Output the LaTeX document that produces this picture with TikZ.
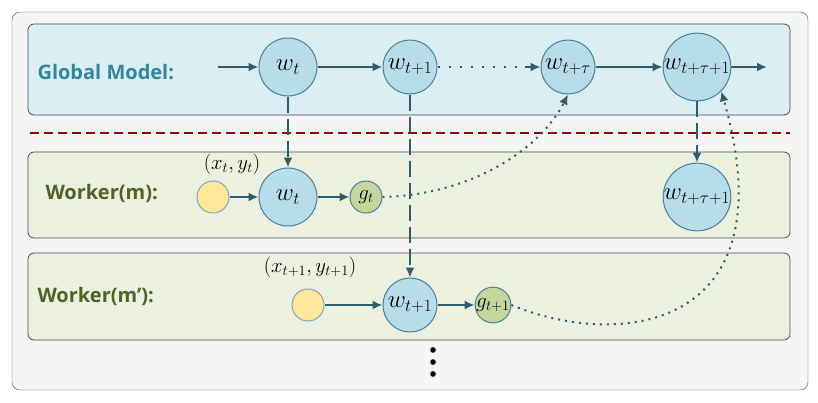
\documentclass[tikz,border=0pt]{standalone}
\usepackage{fontspec}
\setmainfont{Open Sans}
\usetikzlibrary{arrows.meta}
\definecolor{arr}{HTML}{2E5E6E}
\definecolor{cfill}{HTML}{B7DDE8}
\definecolor{cline}{HTML}{4A7EA0}
\definecolor{bblue}{HTML}{DAEEF3}
\definecolor{bgreen}{HTML}{EBF1DE}
\definecolor{tglob}{HTML}{31859C}
\definecolor{twork}{HTML}{4F6228}
\definecolor{gfill}{HTML}{C3D69B}
\definecolor{yfill}{HTML}{FFE699}
\tikzset{
 band/.style={draw=black!70,rounded corners=6pt,line width=0.8pt},
 w/.style={circle,draw=cline,fill=cfill,line width=1pt,minimum size=#1,inner sep=0pt,font=\fontsize{26}{30}\selectfont},
 w/.default=58pt,
 g/.style={circle,draw=cline,fill=gfill,line width=1pt,minimum size=32pt,inner sep=0pt,font=\fontsize{22}{26}\selectfont},
 inp/.style={circle,draw=cline!70,fill=yfill,line width=1pt,minimum size=32pt},
 a/.style={-{Latex[length=10pt,width=9pt]},draw=arr,line width=2pt},
 da/.style={a,dash pattern=on 16pt off 6pt},
 dt/.style={-{Latex[length=10pt,width=9pt]},draw=arr,line width=2pt,dash pattern=on 2pt off 5pt},
 lab/.style={font=\bfseries\fontsize{20}{24}\selectfont,anchor=west},
 xy/.style={font=\fontsize{22}{26}\selectfont}
}
\begin{document}
\begin{tikzpicture}[x=1pt,y=-1pt]
\useasboundingbox (0,0) rectangle (818,402);
\draw[rounded corners=8pt,fill=black!4,draw=black!70] (12,12) rectangle (808,390);
\draw[band,fill=bblue] (28,24) rectangle (790,115);
\draw[band,fill=bgreen] (28,152) rectangle (790,238);
\draw[band,fill=bgreen] (28,253) rectangle (790,340);
\draw[red!60!black,line width=1.5pt,dash pattern=on 9pt off 5pt] (30,133) -- (790,133);
\node[lab,text=tglob] (gl) at (34,72) {Global Model:};
\node[lab,text=twork] (wm) at (42,193) {Worker(m):};
\node[lab,text=twork] (wm2) at (34,296) {Worker(m’):};
\node[w] (w1) at (288,67) {$w_t$};
\node[w=54pt] (w2) at (410,67) {$w_{t+1}$};
\node[w=54pt] (w3) at (568,67) {$w_{t+\tau}$};
\node[w=54pt] (w4) at (697,67) {$w_{t+\tau+1}$};
\coordinate (s) at (218,67);
\coordinate (e) at (767,67);
\draw[a] (s) -- (w1);
\draw[a] (w1) -- (w2);
\draw[draw=arr,line width=2pt,dash pattern=on 2pt off 9pt] (w2) -- (525,67);
\draw[a] (525,67) -- (w3);
\draw[a] (w3) -- (w4);
\draw[a] (w4) -- (e);
% worker m
\node[inp] (x1) at (213,197) {};
\node[xy] (xl1) at (232,164) {$(x_t,y_t)$};
\node[w] (v1) at (288,197) {$w_t$};
\node[g] (g1) at (366,197) {$g_t$};
\node[w=54pt] (v4) at (697,197) {$w_{t+\tau+1}$};
\draw[a] (x1) -- (v1);
\draw[a] (v1) -- (g1);
% worker m'
\node[inp] (x2) at (308,305) {};
\node[xy] (xl2) at (310,267) {$(x_{t+1},y_{t+1})$};
\node[w=54pt] (v2) at (410,305) {$w_{t+1}$};
\node[g] (g2) at (493,305) {$g_{t+1}$};
\draw[a] (x2) -- (v2);
\draw[a] (v2) -- (g2);
% dashed
\draw[da] (w1) -- (v1);
\draw[da] (w2) -- (v2);
\draw[da] (w4) -- (v4);
% dotted curves
\draw[dt] (g1.east) .. controls (470,195) and (540,150) .. (w3.south);
\draw[dt] (g2.east) .. controls (620,350) and (790,330) .. (w4.south east);
% dots
\fill (433,350) circle (2.8pt) (433,362) circle (2.8pt) (433,374) circle (2.8pt);
\end{tikzpicture}
\end{document}
